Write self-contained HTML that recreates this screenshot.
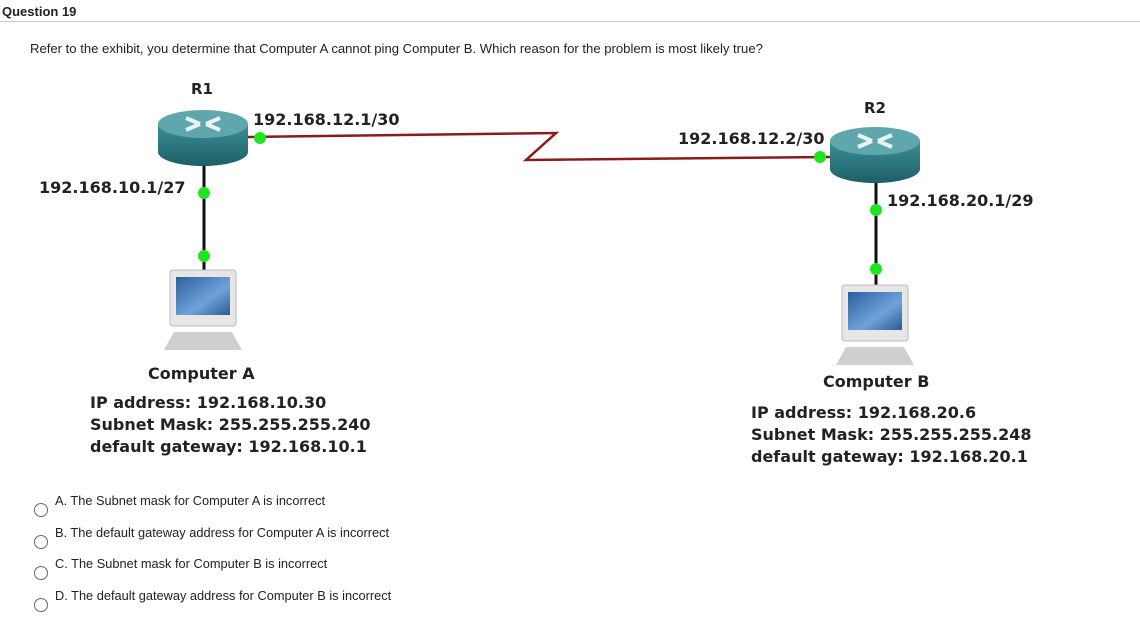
<!DOCTYPE html>
<html><head><meta charset="utf-8"><style>
body{margin:0;width:1140px;height:620px;background:#fff;position:relative;overflow:hidden;font-family:"Liberation Sans",sans-serif}
.t{position:absolute;white-space:nowrap}
.d{font-family:"DejaVu Sans",sans-serif;font-weight:bold;color:#222}
.opt{position:absolute;left:34px;width:12px;height:12px;border:1px solid #666;border-radius:50%}
</style></head><body>
<div class="t" style="left:2px;top:4px;font-size:13px;font-weight:bold;color:#222">Question 19</div>
<div style="position:absolute;left:0;top:21px;width:1140px;height:1px;background:#ccc"></div>
<div class="t" style="left:30px;top:41px;font-size:13.1px;color:#222">Refer to the exhibit, you determine that Computer A cannot ping Computer B. Which reason for the problem is most likely true?</div>
<svg width="1140" height="620" style="position:absolute;left:0;top:0">
<defs>
<linearGradient id="rg" x1="0" x2="0" y1="0" y2="1"><stop offset="0" stop-color="#3d8f96"/><stop offset="1" stop-color="#1d5f66"/></linearGradient>
<linearGradient id="sc" x1="0" x2="1" y1="0" y2="1"><stop offset="0" stop-color="#2d5f9e"/><stop offset="0.6" stop-color="#6fa3d8"/><stop offset="1" stop-color="#2b5a94"/></linearGradient>
<g id="router">
<path d="M0 14 L0 42 A45 14 0 0 0 90 42 L90 14 Z" fill="url(#rg)"/>
<ellipse cx="45" cy="14" rx="45" ry="14" fill="#5fa6ad"/>
<path d="M28 8 L42 14 M62 8 L48 14 M28 20 L42 14 M62 20 L48 14" stroke="#e8f4f4" stroke-width="4"/>
</g>
<g id="pc">
<rect x="0" y="0" width="66" height="56" rx="3" fill="#e6e6e6" stroke="#bbb"/>
<rect x="6" y="7" width="54" height="38" fill="url(#sc)"/>
<path d="M-6 80 L4 62 L62 62 L72 80 Z" fill="#cfcfcf"/>
</g>
</defs>
<line x1="204" y1="160" x2="204" y2="270" stroke="#111" stroke-width="3"/>
<line x1="876" y1="178" x2="876" y2="285" stroke="#111" stroke-width="3"/>
<polyline points="248,137 556,133 526,160 830,157" fill="none" stroke="#8b1a1a" stroke-width="2.5"/>
<use href="#router" x="158" y="110"/>
<use href="#router" x="830" y="127"/>
<use href="#pc" x="170" y="270"/>
<use href="#pc" x="842" y="285"/>
<g fill="#1ee61e">
<circle cx="260" cy="138" r="6"/><circle cx="204" cy="193" r="6"/><circle cx="204" cy="256" r="6"/>
<circle cx="820" cy="157" r="6"/><circle cx="876" cy="210" r="6"/><circle cx="876" cy="269" r="6"/>
</g>
</svg>
<div class="t d" style="left:191px;top:80px;font-size:15px">R1</div>
<div class="t d" style="left:864px;top:99px;font-size:15px">R2</div>
<div class="t d" style="left:253px;top:110px;font-size:16px">192.168.12.1/30</div>
<div class="t d" style="left:678px;top:129px;font-size:16px">192.168.12.2/30</div>
<div class="t d" style="left:39px;top:178px;font-size:16px">192.168.10.1/27</div>
<div class="t d" style="left:887px;top:191px;font-size:16px">192.168.20.1/29</div>
<div class="t d" style="left:148px;top:364px;font-size:16px">Computer A</div>
<div class="t d" style="left:90px;top:392px;font-size:16px;line-height:22px">IP address: 192.168.10.30<br>Subnet Mask: 255.255.255.240<br>default gateway: 192.168.10.1</div>
<div class="t d" style="left:823px;top:372px;font-size:16px">Computer B</div>
<div class="t d" style="left:751px;top:402px;font-size:16px;line-height:22px">IP address: 192.168.20.6<br>Subnet Mask: 255.255.255.248<br>default gateway: 192.168.20.1</div>
<div class="opt" style="top:503px"></div>
<div class="opt" style="top:535px"></div>
<div class="opt" style="top:566px"></div>
<div class="opt" style="top:598px"></div>
<div class="t" style="left:55px;top:493px;font-size:12.8px;color:#222">A. The Subnet mask for Computer A is incorrect</div>
<div class="t" style="left:55px;top:525px;font-size:12.8px;color:#222">B. The default gateway address for Computer A is incorrect</div>
<div class="t" style="left:55px;top:556px;font-size:12.8px;color:#222">C. The Subnet mask for Computer B is incorrect</div>
<div class="t" style="left:55px;top:588px;font-size:12.8px;color:#222">D. The default gateway address for Computer B is incorrect</div>
</body></html>
